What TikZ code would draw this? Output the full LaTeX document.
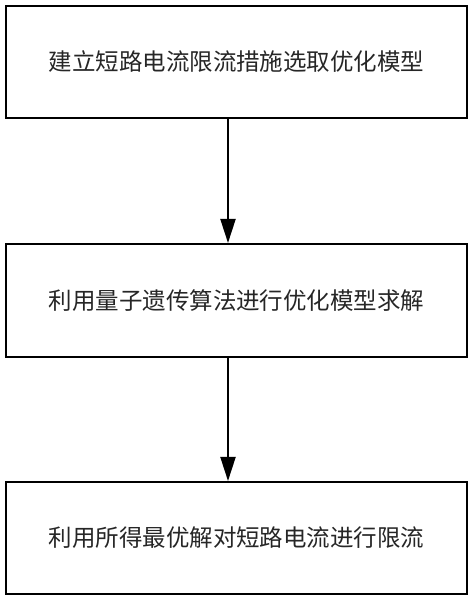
\documentclass[tikz,border=0pt]{standalone}
\usepackage{fontspec}
\newfontfamily\cjk{Noto Sans CJK SC}
\usetikzlibrary{arrows.meta,calc}
\begin{document}
\begin{tikzpicture}[x=1pt,y=1pt,
  stepbox/.style={draw=black,line width=2pt,minimum width=461pt,inner sep=0pt,font=\cjk\fontsize{23.5}{28}\selectfont,text=black!85},
  arr/.style={line width=2pt,-{Triangle[width=15pt,length=24pt]}}]
\useasboundingbox (0,0) rectangle (474,597);
\node[stepbox,minimum height=112pt] (b1) at (236.5,535) {建立短路电流限流措施选取优化模型};
\node[stepbox,minimum height=113pt] (b2) at (236.5,296.5) {利用量子遗传算法进行优化模型求解};
\node[stepbox,minimum height=112pt] (b3) at (236.5,59) {利用所得最优解对短路电流进行限流};
\draw[arr] ($(b1.south)+(-8.5,0)$) -- ($(b2.north)+(-8.5,0)$);
\draw[arr] ($(b2.south)+(-8.5,0)$) -- ($(b3.north)+(-8.5,0)$);
\end{tikzpicture}
\end{document}
